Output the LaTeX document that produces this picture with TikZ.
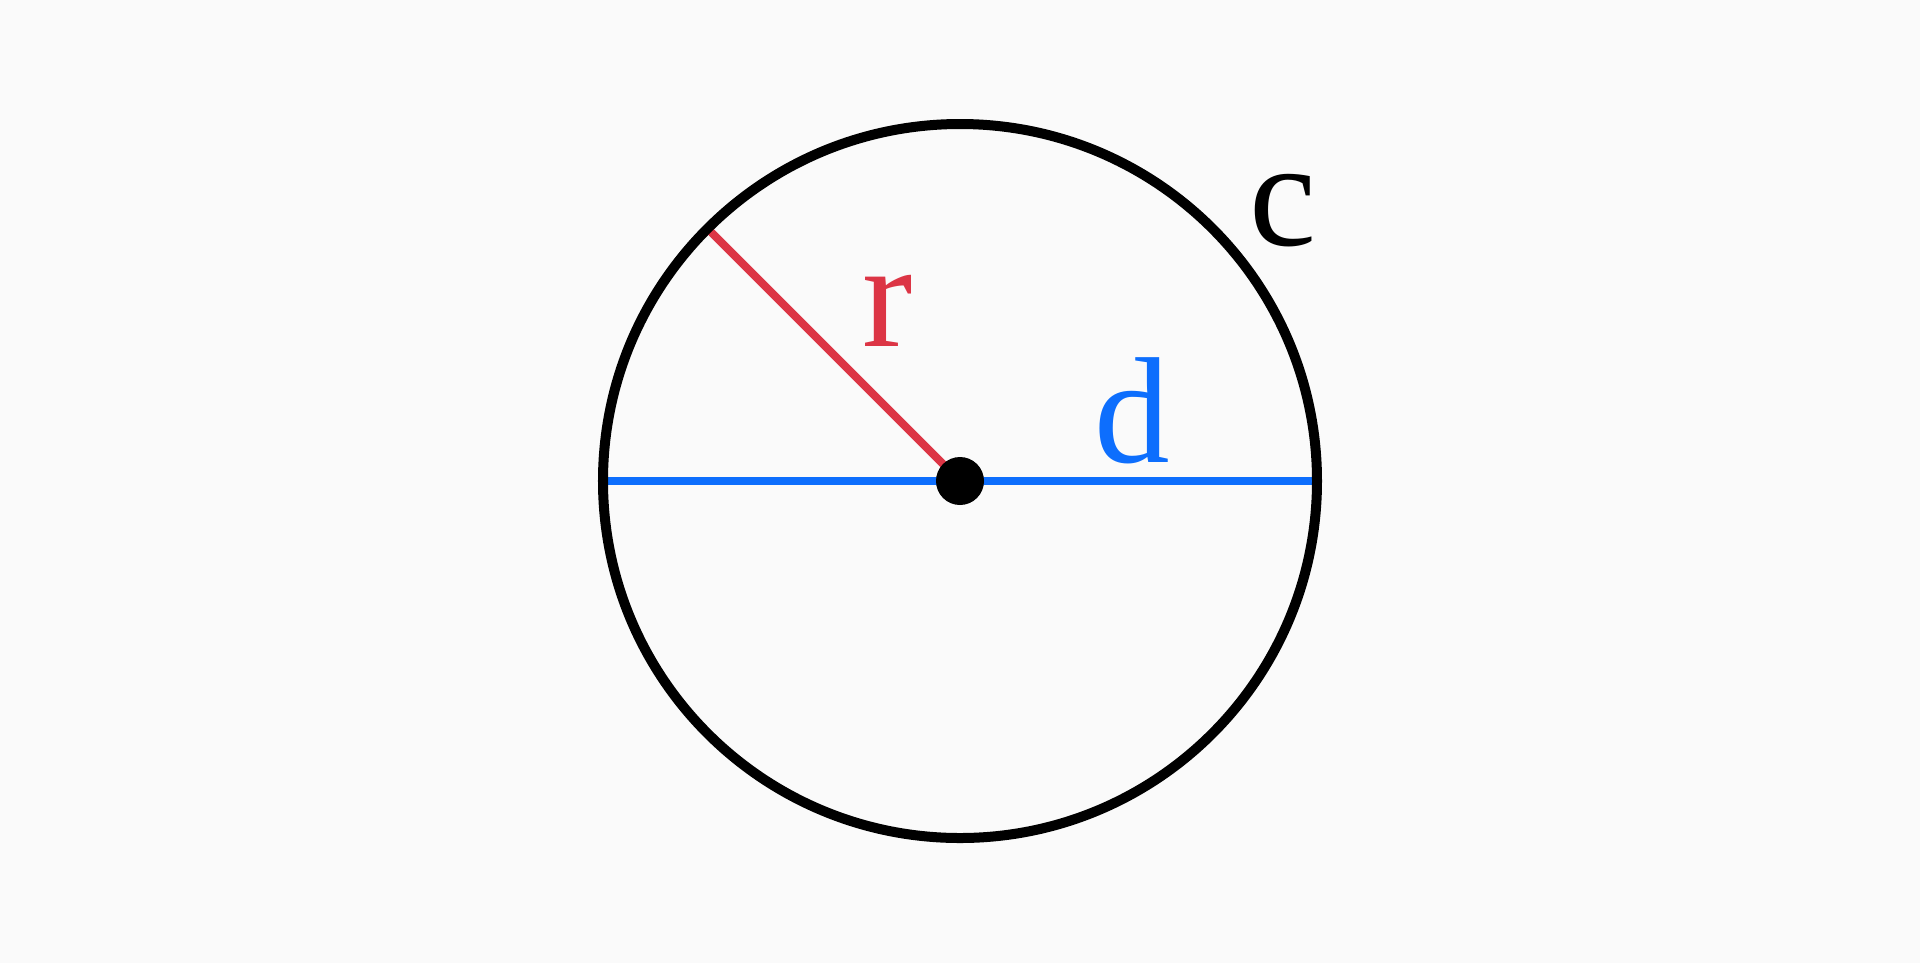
\documentclass[tikz,border=0pt]{standalone}
\usepackage{fontspec}
\setmainfont{Liberation Serif}
\usepackage{tikz}
\usetikzlibrary{positioning}
\definecolor{bgcol}{HTML}{FAFAFA}
\definecolor{radcol}{HTML}{DC3545}
\definecolor{diacol}{HTML}{0D6EFD}
\tikzstyle{rim} = [draw=black, line width=0.1cm]
\tikzstyle{radius_line} = [draw=radcol, line width=0.08cm]
\tikzstyle{diameter_line} = [draw=diacol, line width=0.08cm]
\tikzstyle{centre} = [circle, fill=black, inner sep=0pt, minimum size=0.48cm]
\tikzstyle{letter} = [inner sep=0pt, anchor=base, font=\fontsize{43}{50}\selectfont]

\begin{document}
\begin{tikzpicture}
%
\fill[bgcol] (-9.6,-4.82) rectangle (9.6,4.81);
\useasboundingbox (-9.6,-4.82) rectangle (9.6,4.81);
%
\coordinate (o) at (0,0);
\coordinate (rim_r) at (135:3.57);
\coordinate (rim_w) at (180:3.57);
\coordinate (rim_e) at (0:3.57);
%
\draw [diameter_line] (rim_w) -- (rim_e);
\draw [radius_line] (o) -- (rim_r);
\draw [rim] (o) circle (3.57);
\node (mid) [centre] at (o) {};
%
\node (lab_r) [letter, text=radcol] at (-0.72,1.35) {r};
\node (lab_d) [letter, text=diacol] at (1.72,0.19) {d};
\node (lab_c) [letter, text=black] at (3.23,2.36) {c};
%
\end{tikzpicture}
\end{document}
